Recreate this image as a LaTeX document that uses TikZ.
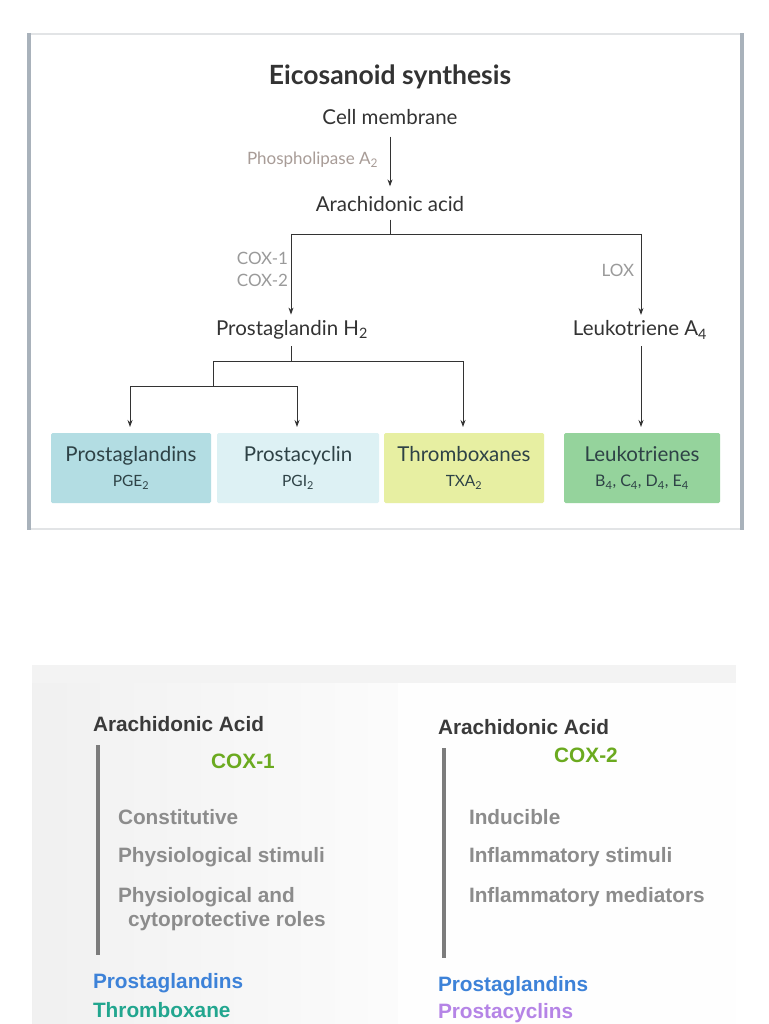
\documentclass[tikz,border=0pt]{standalone}
\usepackage{fontspec}
\setmainfont{Lato}
\newfontfamily\arialf{Liberation Sans}
\usetikzlibrary{arrows.meta,calc}
\definecolor{txt}{HTML}{333333}
\definecolor{enz}{HTML}{A89C97}
\definecolor{enzg}{HTML}{9A9A9A}
\definecolor{framegray}{HTML}{A9B2BB}
\definecolor{framelight}{HTML}{E2E4E6}
\definecolor{pgcol}{HTML}{B3DDE3}
\definecolor{pccol}{HTML}{DDF1F4}
\definecolor{txcol}{HTML}{E7EFA2}
\definecolor{ltcol}{HTML}{95D39C}
\definecolor{boxtxt}{HTML}{2E4246}
\definecolor{panelbg}{HTML}{F3F3F3}
\definecolor{darktxt}{HTML}{3A3A3A}
\definecolor{graytxt}{HTML}{8C8C8C}
\definecolor{coxgreen}{HTML}{6BAA1F}
\definecolor{pgblue}{HTML}{3D82D8}
\definecolor{txteal}{HTML}{22A68F}
\definecolor{pcpurple}{HTML}{B584E6}
\definecolor{barcol}{HTML}{7C7C7C}
\begin{document}
\begin{tikzpicture}[x=1pt,y=-1pt,
  every node/.style={inner sep=0pt, outer sep=0pt},
  lbl/.style={text=txt, font=\fontsize{20.5}{24}\selectfont},
  enzlbl/.style={text=enzg, font=\fontsize{17}{22}\selectfont, align=right, anchor=east},
  conn/.style={draw=txt, line width=0.9pt},
  arr/.style={conn, -{Stealth[length=7pt,width=5pt]}},
  catbox/.style={minimum width=160pt, minimum height=70pt, rounded corners=1.5pt, text=boxtxt, align=center, font=\fontsize{20.5}{25}\selectfont},
  ptxt/.style={font=\arialf\bfseries\fontsize{20.8}{24}\selectfont, anchor=west},
  bar/.style={draw=barcol, line width=3.5pt}
]
\useasboundingbox (0,0) rectangle (768,1024);
\fill[white] (0,0) rectangle (768,1024);
% ---------- top panel frame
\fill[white] (27,33) rectangle (743,530);
\draw[framelight, line width=2pt] (27,34) -- (743,34);
\draw[framelight, line width=2pt] (27,529) -- (743,529);
\fill[framegray] (27,33) rectangle (31,530);
\fill[framegray] (740,33) rectangle (744,530);

\node[text=txt, font=\bfseries\fontsize{26.5}{30}\selectfont] (title) at (390,77) {Eicosanoid synthesis};
\node[lbl] (cell) at (390,117) {Cell membrane};
\node[lbl] (aa) at (390,204) {Arachidonic acid};
\node[lbl] (pgh) at (292,330) {Prostaglandin H\textsubscript{2}};
\node[lbl] (lta) at (640,330) {Leukotriene A\textsubscript{4}};

\node[enzlbl, text=enz] (pla) at (378,160) {Phospholipase A\textsubscript{2}};
\node[enzlbl] (cox) at (288,269) {COX-1\\COX-2};
\node[enzlbl] (lox) at (634,270) {LOX};

\node[catbox, fill=pgcol] (pg) at (131,468) {Prostaglandins\\{\fontsize{15.5}{18}\selectfont PGE\textsubscript{2}}};
\node[catbox, fill=pccol, minimum width=162pt] (pc) at (298,468) {Prostacyclin\\{\fontsize{15.5}{18}\selectfont PGI\textsubscript{2}}};
\node[catbox, fill=txcol] (tx) at (464,468) {Thromboxanes\\{\fontsize{15.5}{18}\selectfont TXA\textsubscript{2}}};
\node[catbox, fill=ltcol, minimum width=156pt] (lt) at (642,468) {Leukotrienes\\{\fontsize{16}{18}\selectfont B\textsubscript{4}, C\textsubscript{4}, D\textsubscript{4}, E\textsubscript{4}}};

% connectors
\draw[arr] ($(cell.south)+(0,12)$) -- ($(aa.north)+(0,-10)$);
\coordinate (j1) at (390,234);
\coordinate (cL) at (291,234);
\coordinate (cR) at (641,234);
\draw[conn] ($(aa.south)+(0,8)$) -- (j1);
\draw[conn] (cL) -- (cR);
\draw[arr] (cL) -- ($(pgh.north -| cL)+(0,-6)$);
\draw[arr] (cR) -- ($(lta.north -| cR)+(0,-6)$);

\coordinate (j2) at (291,361);
\coordinate (j2L) at (213,361);
\coordinate (j2R) at (463,361);
\coordinate (j3) at (213,386);
\coordinate (j3L) at (130,386);
\coordinate (j3R) at (297,386);
\draw[conn] ($(pgh.south -| j2)+(0,7)$) -- (j2);
\draw[conn] (j2L) -- (j2R);
\draw[arr] (j2R) -- ($(tx.north -| j2R)+(0,-6)$);
\draw[conn] (j2L) -- (j3);
\draw[conn] (j3L) -- (j3R);
\draw[arr] (j3L) -- ($(pg.north -| j3L)+(0,-6)$);
\draw[arr] (j3R) -- ($(pc.north -| j3R)+(0,-6)$);
\draw[arr] ($(lta.south -| cR)+(0,7)$) -- ($(lt.north -| cR)+(0,-6)$);

% ---------- bottom panel
\fill[panelbg] (32,665) rectangle (736,1024);
\shade[left color=panelbg!90!black!40!white, right color=white!70!panelbg] (32,683) rectangle (398,1024);
\fill[white!90!panelbg] (398,683) rectangle (736,1024);

\node[ptxt, text=darktxt] (aa1) at (93,724) {Arachidonic Acid};
\node[ptxt, text=darktxt] (aa2) at (438,727) {Arachidonic Acid};
\node[ptxt, text=coxgreen, anchor=center] (c1) at (243,761) {COX-1};
\node[ptxt, text=coxgreen, anchor=center] (c2) at (586,755) {COX-2};
\coordinate (b1t) at (98,745);
\coordinate (b1b) at (98,955);
\coordinate (b2t) at (444,748);
\coordinate (b2b) at (444,958);
\draw[bar] (b1t) -- (b1b);
\draw[bar] (b2t) -- (b2b);

\node[ptxt, text=graytxt] (l1) at (118,817) {Constitutive};
\node[ptxt, text=graytxt] (l2) at (118,857) {Physiological stimuli};
\node[ptxt, text=graytxt] (l3) at (118,897) {Physiological and};
\node[ptxt, text=graytxt] (l4) at (128,921) {cytoprotective roles};
\node[ptxt, text=graytxt] (r1) at (469,817) {Inducible};
\node[ptxt, text=graytxt] (r2) at (469,857) {Inflammatory stimuli};
\node[ptxt, text=graytxt] (r3) at (469,897) {Inflammatory mediators};

\node[ptxt, text=pgblue] (o1) at (93,983) {Prostaglandins};
\node[ptxt, text=txteal] (o2) at (93,1010) {Thromboxane};
\node[ptxt, text=pgblue] (o3) at (438,986) {Prostaglandins};
\node[ptxt, text=pcpurple] (o4) at (438,1013) {Prostacyclins};
\end{tikzpicture}
\end{document}
